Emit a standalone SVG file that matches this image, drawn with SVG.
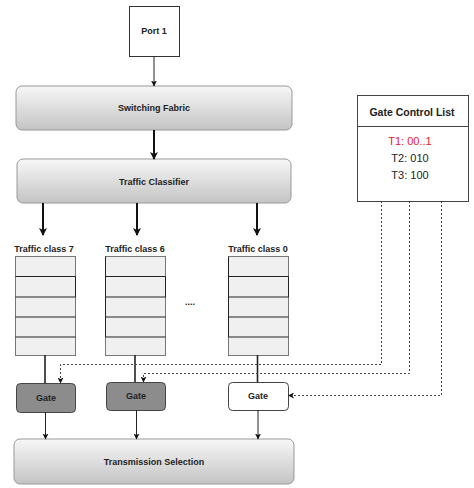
<svg xmlns="http://www.w3.org/2000/svg" width="474" height="488" viewBox="0 0 474 488">
<defs>
<linearGradient id="g" x1="0" y1="0" x2="0" y2="1">
<stop offset="0" stop-color="#f7f7f7"/>
<stop offset="1" stop-color="#c4c4c4"/>
</linearGradient>
<marker id="ah" markerWidth="8" markerHeight="8" refX="7" refY="4" orient="auto" markerUnits="userSpaceOnUse">
<path d="M0,0 L8,4 L0,8 L2,4 z" fill="#111"/>
</marker>
<marker id="ahs" markerWidth="6" markerHeight="6" refX="5.5" refY="3" orient="auto" markerUnits="userSpaceOnUse">
<path d="M0,0 L6,3 L0,6 L1.5,3 z" fill="#111"/>
</marker>
</defs>
<style>
text{font-family:"Liberation Sans",Arial,sans-serif;text-anchor:middle;dominant-baseline:central;fill:#222}
.b{font-weight:bold;font-size:9px}
.bar{fill:url(#g);stroke:#999;stroke-width:1}
.q{fill:#f0f0f0;stroke:#777;stroke-width:1}
.d{stroke:#222;stroke-width:1}
.v{stroke:#222;stroke-width:1.6}
.thick{stroke:#111;stroke-width:2;fill:none}
.thin{stroke:#222;stroke-width:1;fill:none}
.dash{stroke:#444;stroke-width:1;fill:none;stroke-dasharray:2,2}
.gd{fill:#8c8c8c;stroke:#444;stroke-width:1}
.gw{fill:#fff;stroke:#444;stroke-width:1}
.n{font-size:11px}
</style>
<g id="port1"><rect x="129.5" y="6.5" width="50" height="50" fill="#fff" stroke="#333"/><text class="b" x="154" y="31">Port 1</text></g>
<g id="switching-fabric"><rect class="bar" x="16" y="86" width="276" height="44" rx="6"/><text class="b" x="154" y="108">Switching Fabric</text></g>
<g id="traffic-classifier"><rect class="bar" x="17" y="159" width="274" height="44" rx="6"/><text class="b" x="154" y="182">Traffic Classifier</text></g>
<g id="tc7"><text class="b" x="44" y="249">Traffic class 7</text><rect class="q" x="15.5" y="256.5" width="60" height="99"/><path class="d" d="M15.5,276.5H75.5M15.5,297H75.5M15.5,317H75.5M15.5,337H75.5M75.5,276.5V297"/></g>
<g id="tc6"><text class="b" x="135" y="249">Traffic class 6</text><rect class="q" x="105.5" y="256.5" width="60" height="99"/><path class="d" d="M105.5,276.5H165.5M105.5,297H165.5M105.5,317H165.5M105.5,337H165.5M165.5,276.5V297M105.5,256.5V337"/></g>
<g id="tc0"><text class="b" x="258" y="249">Traffic class 0</text><rect class="q" x="228.5" y="256.5" width="60" height="99"/><path class="d" d="M228.5,276.5H288.5M228.5,297H288.5M228.5,317H288.5M228.5,337H288.5M288.5,276.5V297M228.5,256.5V337"/></g>
<g id="ellipsis"><text class="b" x="190" y="302">....</text></g>
<g id="gate7"><rect class="gd" x="16.5" y="383.5" width="59" height="29" rx="4"/><text class="b" x="46" y="398">Gate</text></g>
<g id="gate6"><rect class="gd" x="106.5" y="382.5" width="59" height="28" rx="4"/><text class="b" x="136" y="396">Gate</text></g>
<g id="gate0"><rect class="gw" x="228.5" y="382.5" width="60" height="28" rx="4"/><text class="b" x="258" y="396">Gate</text></g>
<g id="transmission-selection"><rect class="bar" x="14" y="439" width="280" height="45" rx="6"/><text class="b" x="154" y="462">Transmission Selection</text></g>
<g id="gate-control-list"><rect x="357.5" y="95.5" width="111" height="106" fill="#fff" stroke="#444"/><line x1="357.5" y1="126.5" x2="468.5" y2="126.5" stroke="#444"/><text x="412" y="112" font-size="10.5px" style="font-weight:600">Gate Control List</text><text class="n" x="410" y="141" style="fill:#e8202a">T1: 00..1</text><text class="n" x="410" y="158">T2: 010</text><text class="n" x="410" y="175">T3: 100</text></g>
<g id="connectors">
<line class="thin" x1="154" y1="56" x2="154" y2="86" marker-end="url(#ahs)"/>
<line class="thick" x1="154" y1="130" x2="154" y2="159" marker-end="url(#ah)"/>
<line class="thick" x1="43" y1="203" x2="43" y2="235" marker-end="url(#ah)"/>
<line class="thick" x1="137" y1="203" x2="137" y2="235" marker-end="url(#ah)"/>
<line class="thick" x1="257" y1="203" x2="257" y2="235" marker-end="url(#ah)"/>
<line class="v" x1="45" y1="355" x2="45" y2="383"/>
<line class="v" x1="135" y1="355" x2="135" y2="382"/>
<line class="v" x1="257.5" y1="355" x2="257.5" y2="382"/>
<line class="thin" x1="45.5" y1="412" x2="45.5" y2="439" marker-end="url(#ahs)"/>
<line class="thin" x1="136.5" y1="410" x2="136.5" y2="439" marker-end="url(#ahs)"/>
<line class="thin" x1="258" y1="410" x2="258" y2="439" marker-end="url(#ahs)"/>
<path class="dash" d="M381.5,201V364.5H60.5V383" marker-end="url(#ahs)"/>
<path class="dash" d="M409.5,201V373.5H143.5V382" marker-end="url(#ahs)"/>
<path class="dash" d="M441.5,201V395.5H288.5" marker-end="url(#ahs)"/>
</g>
</svg>
